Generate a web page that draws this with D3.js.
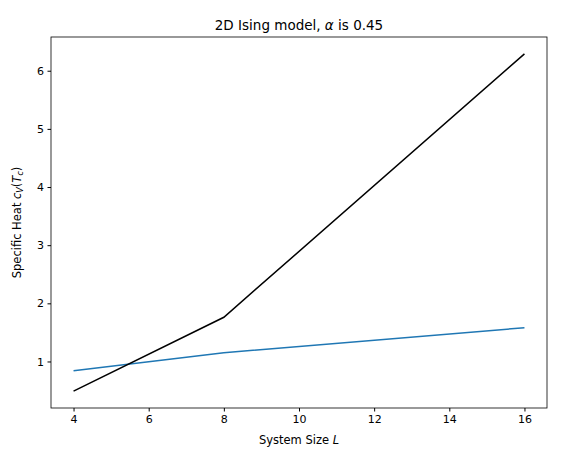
<!DOCTYPE html>
<html><head><meta charset="utf-8">
<script src="https://cdn.jsdelivr.net/npm/d3@7"></script>
<style>body{margin:0;background:#fff}text{font-family:"DejaVu Sans",sans-serif}</style>
</head><body><svg id="c" width="566" height="461"></svg>
<script>
const sizes = [4, 8, 16];
const blackVals = [0.49, 1.76, 6.29];
const blueVals = [0.84, 1.15, 1.58];
const xTicks = [4, 6, 8, 10, 12, 14, 16];
const yTicks = [1, 2, 3, 4, 5, 6];

const svg = d3.select("#c");
const L = 51, R = 547, T = 37, B = 408;
const x = d3.scaleLinear().domain([3.4, 16.6]).range([L, R]);
const y = d3.scaleLinear().domain([0.2, 6.58]).range([B, T]);

const line = d3.line().x((d, i) => x(sizes[i])).y(d => y(d));
svg.append("path").datum(blueVals).attr("d", line).attr("fill", "none").attr("stroke", "#1f77b4").attr("stroke-width", 1.5);
svg.append("path").datum(blackVals).attr("d", line).attr("fill", "none").attr("stroke", "#000").attr("stroke-width", 1.5);

const xa = svg.append("g").attr("transform", `translate(0,${B})`).call(d3.axisBottom(x).tickValues(xTicks).tickFormat(d3.format("d")).tickSize(3.5).tickPadding(3.5));
const ya = svg.append("g").attr("transform", `translate(${L},0)`).call(d3.axisLeft(y).tickValues(yTicks).tickFormat(d3.format("d")).tickSize(3.5).tickPadding(3.5));
[xa, ya].forEach(a => { a.select(".domain").remove(); a.selectAll("text").attr("font-size", 11).attr("font-family", "DejaVu Sans").attr("fill", "#000"); a.selectAll("line").attr("stroke", "#000"); });
svg.append("rect").attr("x", L).attr("y", T).attr("width", R - L).attr("height", B - T).attr("fill", "none").attr("stroke", "#000").attr("stroke-width", 0.8);

const t = svg.append("text").attr("x", (L + R) / 2).attr("y", 30).attr("text-anchor", "middle").attr("font-size", 13.5);
t.append("tspan").text("2D Ising model, ");
t.append("tspan").attr("font-style", "italic").text("α");
t.append("tspan").text(" is 0.45");

const xl = svg.append("text").attr("x", (L + R) / 2).attr("y", 444).attr("text-anchor", "middle").attr("font-size", 11.5);
xl.append("tspan").text("System Size ");
xl.append("tspan").attr("font-style", "italic").text("L");

const yl = svg.append("text").attr("transform", `translate(21,${(T + B) / 2}) rotate(-90)`).attr("text-anchor", "middle").attr("font-size", 11.5);
yl.append("tspan").text("Specific Heat ");
yl.append("tspan").attr("font-style", "italic").text("c");
yl.append("tspan").attr("font-style", "italic").attr("font-size", 8).attr("dy", 2).text("V");
yl.append("tspan").attr("dy", -2).text("(");
yl.append("tspan").attr("font-style", "italic").text("T");
yl.append("tspan").attr("font-style", "italic").attr("font-size", 8).attr("dy", 2).text("c");
yl.append("tspan").attr("dy", -2).text(")");
</script></body></html>
